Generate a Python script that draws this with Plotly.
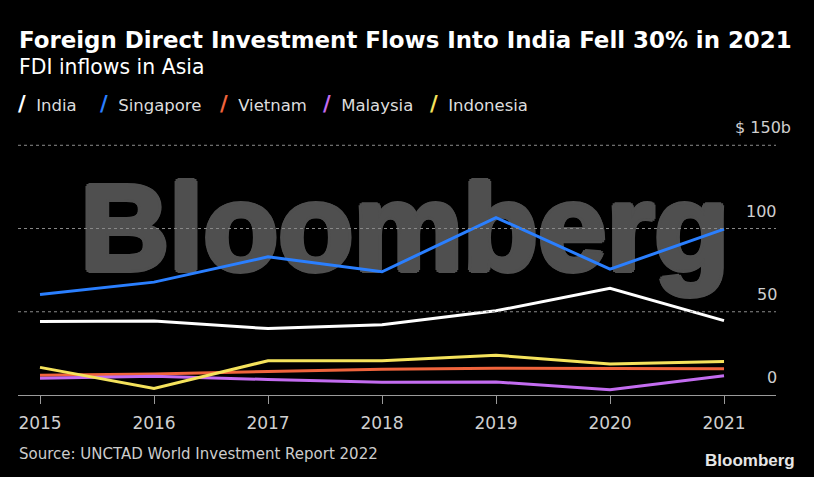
import plotly.graph_objects as go

# ---- data ----
years = [2015, 2016, 2017, 2018, 2019, 2020, 2021]
series_names = ["India", "Singapore", "Vietnam", "Malaysia", "Indonesia"]
india = [44.1, 44.5, 39.9, 42.2, 50.6, 64.1, 44.7]
singapore = [60.4, 67.8, 83.0, 74.0, 106.6, 75.6, 99.6]
vietnam = [11.8, 12.6, 14.1, 15.5, 16.1, 15.8, 15.7]
malaysia = [10.1, 11.3, 9.3, 7.6, 7.8, 3.2, 11.6]
indonesia = [16.6, 3.9, 20.6, 20.6, 23.9, 18.6, 20.1]
y_tickvals = [0, 50, 100, 150]
y_ticktext = ["0", "50", "100", "$ 150b"]
x_ticktext = [str(y) for y in years]

colors = ["#ffffff", "#2a7fff", "#f0643c", "#c36cf0", "#f5e35c"]
values = [india, singapore, vietnam, malaysia, indonesia]

FONT = "DejaVu Sans, sans-serif"
LOGO_FONT = "Liberation Sans, Arial, sans-serif"
WM = "#4f4f4f"

W, H = 814, 477
L, R, T, B = 18, 38, 112, 82
plot_h = H - T - B
plot_w = W - L - R


def py(px):
    return (H - B - px) / plot_h


def pxx(px):
    return (px - L) / plot_w


fig = go.Figure()

# watermark (thickened with text shadows)
shadow = ", ".join(f"{dx}px {dy}px 0 {WM}" for dx, dy in
                   [(3, 0), (-3, 0), (0, 3), (0, -3), (2, 2), (-2, 2), (2, -2), (-2, -2)])
fig.add_trace(go.Scatter(
    x=[2018.2], y=[93.5], mode="text", text=["<b>Bloomberg</b>"],
    textposition="middle center",
    textfont=dict(family=LOGO_FONT, size=123, color=WM, weight="bold", shadow=shadow),
    hoverinfo="skip", showlegend=False,
))

for name, vals, col in zip(series_names, values, colors):
    fig.add_trace(go.Scatter(
        x=years, y=vals, mode="lines", name=name,
        line=dict(color=col, width=3), showlegend=False,
    ))

# dotted gridlines (above the watermark)
for v in y_tickvals[1:]:
    fig.add_shape(type="line", xref="paper", x0=0, x1=1, yref="y", y0=v, y1=v,
                  line=dict(color="#8a8a8a", width=1, dash="dot"), layer="above")

annotations = []
# y tick labels sitting above the gridlines, numbers right-aligned at the plot edge
for v, t in zip(y_tickvals, y_ticktext):
    overhang = 14 if t.endswith("b") else 0  # unit suffix hangs past the edge
    annotations.append(dict(
        text=t, xref="paper", yref="y", x=1, y=v, xanchor="right", yanchor="bottom",
        xshift=3 + overhang, yshift=6, showarrow=False,
        font=dict(family=FONT, size=16, color="#cfcfcf")))

annotations.append(dict(
    text="<b>Foreign Direct Investment Flows Into India Fell 30% in 2021</b>",
    xref="paper", yref="paper", x=pxx(17), y=py(40), xanchor="left", yanchor="middle",
    showarrow=False, font=dict(family=FONT, size=22.9, color="#ffffff")))
annotations.append(dict(
    text="FDI inflows in Asia",
    xref="paper", yref="paper", x=pxx(17), y=py(67), xanchor="left", yanchor="middle",
    showarrow=False, font=dict(family=FONT, size=20.4, color="#ffffff")))

legend_x = [16, 98, 218, 321, 428]
for name, col, lx in zip(series_names, colors, legend_x):
    annotations.append(dict(
        text=f"<span style='color:{col};font-size:21px'><b>/</b></span>&nbsp;&nbsp;{name}",
        xref="paper", yref="paper", x=pxx(lx), y=py(104), xanchor="left", yanchor="middle",
        showarrow=False, font=dict(family=FONT, size=16.5, color="#dddddd")))

annotations.append(dict(
    text="Source: UNCTAD World Investment Report 2022",
    xref="paper", yref="paper", x=pxx(17), y=py(454), xanchor="left", yanchor="middle",
    showarrow=False, font=dict(family=FONT, size=15, color="#cccccc")))
annotations.append(dict(
    text="<b>Bloomberg</b>",
    xref="paper", yref="paper", x=pxx(797), y=py(461), xanchor="right", yanchor="middle",
    showarrow=False, font=dict(family=LOGO_FONT, size=17, color="#e6e6e6")))

fig.update_layout(
    width=W, height=H,
    margin=dict(l=L, r=R, t=T, b=B, pad=0),
    paper_bgcolor="#000000", plot_bgcolor="#000000",
    annotations=annotations,
    showlegend=False,
    xaxis=dict(
        range=[2014.807, 2021.456], tickvals=years, ticktext=x_ticktext,
        showgrid=False, zeroline=False, showline=True, linecolor="#9a9a9a", linewidth=1,
        ticks="outside", ticklen=8, tickcolor="#9a9a9a", tickwidth=1,
        tickfont=dict(family=FONT, size=17, color="#cfcfcf"), ticklabelstandoff=5,
    ),
    yaxis=dict(
        range=[0, 170], tickvals=y_tickvals, showticklabels=False, ticks="",
        showgrid=False, zeroline=False, showline=False,
    ),
)

fig.write_html("out.html")
